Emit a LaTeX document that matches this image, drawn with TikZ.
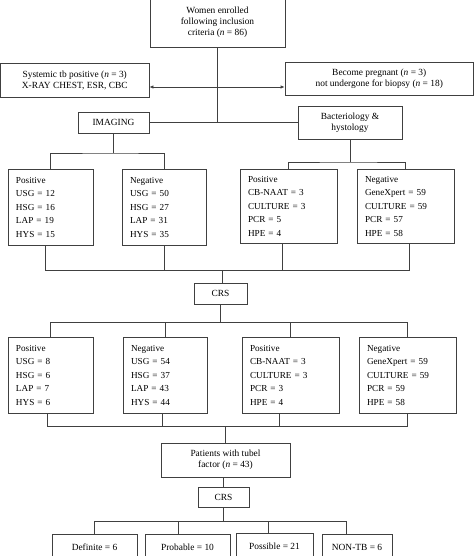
\documentclass[tikz,border=0pt]{standalone}
\usepackage{fontspec}
\setmainfont{Liberation Serif}
\usepackage{tikz}
\usetikzlibrary{positioning, arrows.meta, calc}
\definecolor{flowGray}{HTML}{404040}
\tikzstyle{flowbox} =[draw=flowGray, line width=0.8pt, align=center, inner sep=2pt, font=\fontsize{9.4}{11}\selectfont]
\tikzstyle{countbox} =[draw=flowGray, line width=0.8pt, align=left, inner xsep=8pt, inner ysep=2pt, minimum height=76pt, font=\fontsize{9.2}{13.5}\selectfont]
\tikzstyle{flowline} =[draw=flowGray, line width=0.8pt]

\begin{document}
\begin{tikzpicture}[x=1pt, y=-1pt]
\fill[white] (0,0) rectangle (474,556);
\useasboundingbox (0,0) rectangle (474,556);

\node (women) [flowbox, minimum width=135pt, minimum height=53pt] at (217.5,20.5) {\\Women enrolled\\following inclusion\\criteria (\textit{n} = 86)};

\node (systemicTb) [flowbox, minimum width=148.5pt, minimum height=34pt] at (74.75,80) {Systemic tb positive (\textit{n} = 3)\\X-RAY CHEST, ESR, CBC};
\node (pregnant) [flowbox, minimum width=188.5pt, minimum height=33pt] at (379.25,78.5) {Become pregnant (\textit{n} = 3)\\not undergone for biopsy (\textit{n} = 18)};

\node (imaging) [flowbox, minimum width=71pt, minimum height=21pt] at (113.5,122.5) {IMAGING};
\node (bacterio) [flowbox, minimum width=104pt, minimum height=33pt] at (350,122.5) {Bacteriology \&\\hystology};

\node (imgPos) [countbox, text width=69pt] at (50.5,207) {Positive\\USG = 12\\HSG = 16\\LAP = 19\\HYS = 15};
\node (imgNeg) [countbox, text width=68pt] at (164,207) {Negative\\USG = 50\\HSG = 27\\LAP = 31\\HYS = 35};
\node (bacPos) [countbox, text width=81pt, minimum height=74pt] at (288.5,206) {Positive\\CB-NAAT = 3\\CULTURE = 3\\PCR = 5\\HPE = 4};
\node (bacNeg) [countbox, text width=81pt, minimum height=74pt] at (405.5,206) {Negative\\GeneXpert = 59\\CULTURE = 59\\PCR = 57\\HPE = 58};

\node (crsFirst) [flowbox, minimum width=53pt, minimum height=21pt] at (220.5,293.5) {CRS};

\node (crsImgPos) [countbox, text width=69pt] at (50.5,375) {Positive\\USG = 8\\HSG = 6\\LAP = 7\\HYS = 6};
\node (crsImgNeg) [countbox, text width=68pt] at (165,375) {Negative\\USG = 54\\HSG = 37\\LAP = 43\\HYS = 44};
\node (crsBacPos) [countbox, text width=81pt] at (290.5,375) {Positive\\CB-NAAT = 3\\CULTURE = 3\\PCR = 3\\HPE = 4};
\node (crsBacNeg) [countbox, text width=81pt] at (407.5,375) {Negative\\GeneXpert = 59\\CULTURE = 59\\PCR = 59\\HPE = 58};

\node (tubal) [flowbox, minimum width=129pt, minimum height=34pt] at (225.5,460) {Patients with tubel\\factor (\textit{n} = 43)};
\node (crsSecond) [flowbox, minimum width=51pt, minimum height=20pt] at (223.5,497) {CRS};

\node (definite) [flowbox, minimum width=85pt, minimum height=26pt] at (94.5,547) {Definite = 6};
\node (probable) [flowbox, minimum width=85pt, minimum height=26pt] at (187.5,547) {Probable = 10};
\node (possible) [flowbox, minimum width=77pt, minimum height=26pt] at (274.5,546) {Possible = 21};
\node (nonTb) [flowbox, minimum width=70pt, minimum height=26pt] at (357,547) {NON-TB = 6};

%junctions
\coordinate (split) at (women.south |- imaging.east);
\coordinate (arrowLevel) at (220,87);
\coordinate (joinImg) at (113.5,153);
\coordinate (joinBac) at (350,162);
\coordinate (joinUpper) at (222,270);
\coordinate (joinMid) at (220.5,322);
\coordinate (joinLower) at (225.5,426);
\coordinate (joinBottom) at (223.5,521);

\draw[flowline] (women.south) -- (split);
\draw[flowline] (imaging.east) -- (bacterio.west);
\draw[flowline, {Latex[length=4pt,width=3.5pt]}-{Latex[length=4pt,width=3.5pt]}]
	(systemicTb.east |- arrowLevel) -- (pregnant.west |- arrowLevel);

\draw[flowline] (imaging.south) -- (joinImg);
\draw[flowline] (imgPos.north) |- (joinImg) -| (imgNeg.north);
\draw[flowline] (bacterio.south) -- (joinBac);
\draw[flowline] (bacPos.north) |- (joinBac) -| (bacNeg.north);

\draw[flowline] ([xshift=-5.5pt]imgPos.south) |- (joinUpper);
\draw[flowline] (imgNeg.south) |- (joinUpper);
\draw[flowline] ([xshift=-6.5pt]bacPos.south) |- (joinUpper);
\draw[flowline] ([xshift=3.5pt]bacNeg.south) |- (joinUpper);
\draw[flowline] (joinUpper) -- (joinUpper |- crsFirst.north);

\draw[flowline] (crsFirst.south) -- (joinMid);
\draw[flowline] (crsImgPos.north) |- (joinMid);
\draw[flowline] (crsImgNeg.north) |- (joinMid);
\draw[flowline] (crsBacPos.north) |- (joinMid);
\draw[flowline] (crsBacNeg.north) |- (joinMid);

\draw[flowline] ([xshift=-3.5pt]crsImgPos.south) |- (joinLower);
\draw[flowline] ([xshift=-3pt]crsImgNeg.south) |- (joinLower);
\draw[flowline] ([xshift=-11.5pt]crsBacPos.south) |- (joinLower);
\draw[flowline] (crsBacNeg.south) |- (joinLower);
\draw[flowline] (joinLower) -- (tubal.north);

\draw[flowline] (crsSecond.north |- tubal.south) -- (crsSecond.north);
\draw[flowline] (crsSecond.south) -- (joinBottom);
\draw[flowline] (definite.north) |- (joinBottom);
\draw[flowline] ([xshift=-9.5pt]probable.north) |- (joinBottom);
\draw[flowline] ([xshift=-6.5pt]possible.north) |- (joinBottom);
\draw[flowline] ([xshift=-11pt]nonTb.north) |- (joinBottom);
\end{tikzpicture}
\end{document}
